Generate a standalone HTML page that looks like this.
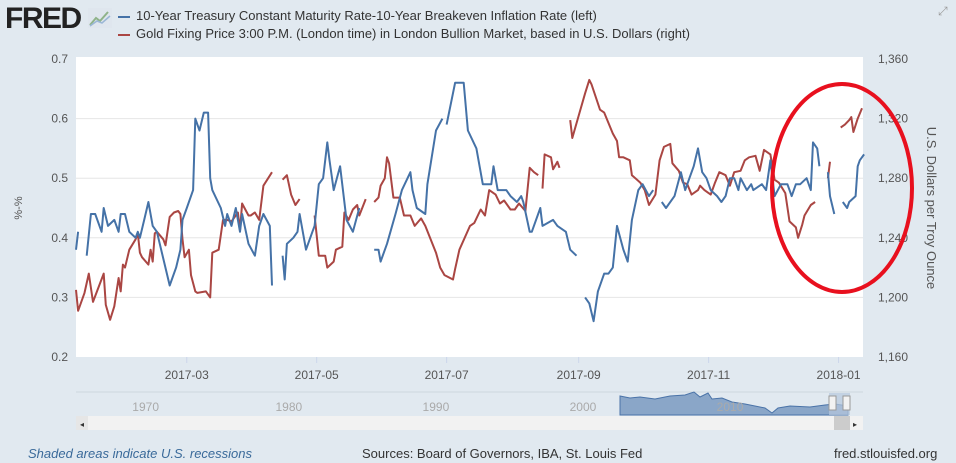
<!DOCTYPE html>
<html><head><meta charset="utf-8"><style>
body{margin:0;width:956px;height:463px;background:#e1e9f0;font-family:"Liberation Sans",sans-serif;overflow:hidden;position:relative}
.t{position:absolute;white-space:nowrap}
</style></head><body>
<div class="t" style="left:5px;top:2px;font-size:30px;font-weight:bold;color:#222;letter-spacing:-1.5px">FRED</div>
<svg style="position:absolute;left:88px;top:8px" width="24" height="20"><rect x="0" y="0" width="24" height="20" fill="#dfe6ee"/><polyline points="2,17 8,10 12,13 20,4" fill="none" stroke="#8fb38a" stroke-width="2"/><polyline points="2,18 9,13 14,15 22,8" fill="none" stroke="#9bb7d6" stroke-width="1.5"/></svg>
<div class="t" style="left:118px;top:8px;font-size:13px;color:#333"><span style="display:inline-block;width:12px;height:2px;background:#4572a7;vertical-align:middle;margin-right:6px"></span>10-Year Treasury Constant Maturity Rate-10-Year Breakeven Inflation Rate (left)</div>
<div class="t" style="left:118px;top:26px;font-size:13px;color:#333"><span style="display:inline-block;width:12px;height:2px;background:#aa4643;vertical-align:middle;margin-right:6px"></span>Gold Fixing Price 3:00 P.M. (London time) in London Bullion Market, based in U.S. Dollars (right)</div>
<div class="t" style="left:938px;top:4px;font-size:12px;color:#999">⤢</div>
<svg id="chart" width="956" height="463" style="position:absolute;left:0;top:0"></svg>
<div class="t" style="left:28px;top:446px;font-size:13px;font-style:italic;color:#3a6a9a">Shaded areas indicate U.S. recessions</div>
<div class="t" style="left:362px;top:446px;font-size:13px;color:#333">Sources: Board of Governors, IBA, St. Louis Fed</div>
<div class="t" style="left:834px;top:446px;font-size:13px;color:#333">fred.stlouisfed.org</div>
<script>
const blueDays=[7,8,9,12,14,16,19,20,22,25,27,28,30,32,35,36,37,39,41,43,45,51,54,56,57,59,62,63,65,67,69,70,71,75,77,78,80,82,84,85,88,91,93,95,98,99,101,104,105,106,109,111,112,115,118,119,121,123,125,126,128,131,134,137,140,143,147,149,150,153,157,160,164,165,167,171,172,176,179,180,181,185,189,191,195,198,202,203,205,209,211,214,216,217,220,221,225,226,231,233,237,239,242,244,246,248,250,252,255,257,259,261,264,266,268,271,273,276,278,280,282,284,288,291,293,295,297,299,301,303,305,308,310,312,314,316,318,319,322,324,325,329,331,333,335,338,341,343,345,347,350,352,353,355,356,358,360,361,363,365,367,369,370,373,374,375,377];
const blueVals=[0.38,0.41,null,0.37,0.44,0.44,0.41,0.45,0.42,0.43,0.41,0.44,0.44,0.41,0.40,0.41,0.40,0.43,0.46,0.42,0.41,0.32,0.35,0.38,0.43,0.45,0.48,0.60,0.58,0.61,0.61,0.50,0.48,0.45,0.42,0.44,0.42,0.45,0.41,0.44,0.39,0.37,0.42,0.44,0.42,0.32,null,0.37,0.33,0.39,0.40,0.41,0.44,0.38,0.41,0.42,0.49,0.50,0.56,0.53,0.48,0.52,0.43,0.41,0.45,null,0.38,0.38,0.36,0.39,0.44,0.48,0.51,0.48,0.45,0.44,0.49,0.58,0.60,null,0.59,0.66,0.66,0.58,0.55,0.49,0.49,0.52,0.48,0.48,0.47,0.46,0.47,0.46,0.41,0.41,0.45,0.42,0.43,0.42,0.41,0.38,0.37,null,0.30,0.29,0.26,0.31,0.34,0.34,0.35,0.42,0.38,0.36,0.43,0.48,0.49,0.47,0.48,null,0.46,0.45,0.47,0.51,0.48,0.50,0.52,0.55,0.51,0.50,0.48,0.47,0.46,0.47,0.50,0.50,0.48,0.50,0.48,0.49,0.48,0.49,0.48,0.53,0.47,0.49,0.49,0.47,0.49,0.49,0.50,0.48,0.56,0.55,0.52,null,0.51,0.47,0.44,null,0.46,0.45,0.46,0.47,0.52,0.53,0.54];
const goldDays=[7,8,11,13,15,20,21,23,25,27,28,29,30,32,35,36,37,38,41,42,43,44,45,48,49,51,53,55,56,57,58,60,61,63,64,68,70,71,74,76,78,80,83,84,85,88,89,91,93,95,99,101,104,106,108,110,112,113,119,121,124,125,128,129,132,133,135,137,139,140,143,144,147,149,150,152,153,154,156,159,161,164,166,169,171,176,178,180,184,185,187,192,194,197,199,201,204,206,208,211,213,215,218,220,222,224,225,226,227,230,231,233,234,237,239,240,243,246,248,249,253,255,259,261,262,264,267,268,272,274,276,279,281,283,286,287,290,292,294,296,299,300,302,305,307,309,312,314,316,319,321,323,326,328,330,333,335,337,340,342,345,346,348,349,352,354,356,360,361,363,366,368,370,371,372,374,376];
const goldVals=[1205,1191,1203,1216,1197,1216,1195,1185,1194,1213,1204,1222,1220,1232,1239,1243,1230,1227,1222,1232,1224,1243,1244,1239,1235,1254,1257,1258,1256,1239,1227,1232,1215,1204,1203,1204,1200,1230,1232,1252,1252,1251,1257,1245,1263,1255,1255,1257,1252,1275,1284,null,1279,1282,1269,1262,1266,null,1255,1228,1228,1220,1224,1232,1234,1257,1252,1259,1262,1255,1266,null,1264,1267,1275,1280,1294,1290,1267,1267,1255,1255,1248,1253,1248,1230,1220,1215,1212,1219,1232,1248,1250,1259,1255,1272,1269,1263,1265,1259,1259,1263,1258,1287,1284,1282,null,1273,1296,1294,1286,1291,1287,null,1319,1307,1322,1337,1346,1343,1326,1324,1310,1305,1294,1294,1292,1282,1277,1272,1262,1269,1292,1301,1303,1290,1285,1277,1276,1269,1272,1275,1272,1269,1277,1284,1282,1275,1284,1285,1292,1294,1295,1285,1299,1296,1279,1277,1270,1251,1247,1240,1249,1255,1262,1264,null,1280,1291,null,1314,1316,1319,1321,1311,1320,1327];
const leftTicks=[0.2,0.3,0.4,0.5,0.6,0.7];
const rightTicks=[1160,1200,1240,1280,1320,1360];
const monthLabels=["2017-03","2017-05","2017-07","2017-09","2017-11","2018-01"];
const monthDays=[59,120,181,243,304,365];
const navYears=["1970","1980","1990","2000","2010"];
const navYearPos=[0.09,0.275,0.465,0.655,0.845];

const svg=document.getElementById('chart');const NS='http://www.w3.org/2000/svg';
const L=76,R=863,T=59,B=357;
const xs=d=>L+(d-7)*2.13;
const yl=v=>B-(v-0.2)/0.5*(B-T);
const yr=v=>B-(v-1160)/200*(B-T);
function mk(tag,at,par){const e=document.createElementNS(NS,tag);for(const k in at)e.setAttribute(k,at[k]);(par||svg).appendChild(e);return e;}
const bg=mk('rect',{x:L,y:T-2,width:R-L,height:B-T+2,fill:'#fff'});


leftTicks.forEach((v,i)=>{
 if(i>0&&i<leftTicks.length-1){const g=mk('line',{x1:L,x2:R,y1:yl(v),y2:yl(v),stroke:'#e6e6e6'});
 
 }
 const t=mk('text',{x:L-8,y:yl(v)+4,'text-anchor':'end','font-size':12,fill:'#555'});t.textContent=v.toFixed(1);
 
 
});
rightTicks.forEach(v=>{const t=mk('text',{x:878,y:yr(v)+4,'font-size':12,fill:'#555'});t.textContent=v.toLocaleString('en-US');
 
 });
monthLabels.forEach((m,i)=>{const x=xs(monthDays[i]);mk('line',{x1:x,x2:x,y1:B,y2:B+6,stroke:'#ccd6eb'});
 const t=mk('text',{x:x,y:B+22,'text-anchor':'middle','font-size':12,fill:'#555'});t.textContent=m;
 
 });
const yt=mk('text',{x:0,y:0,transform:'translate(22,208) rotate(-90)','text-anchor':'middle','font-size':11,fill:'#555'});yt.textContent='%-%';


const yt2=mk('text',{x:0,y:0,transform:'translate(927,208) rotate(90)','text-anchor':'middle','font-size':13,fill:'#555'});yt2.textContent='U.S. Dollars per Troy Ounce';


function path(days,vals,yf,col,name){let d='',pen=false;days.forEach((dd,i)=>{const v=vals[i];if(v===null){pen=false;return;}d+=(pen?'L':'M')+xs(dd).toFixed(1)+','+yf(v).toFixed(1);pen=true;});
 const p=mk('path',{d:d,fill:'none',stroke:col,'stroke-width':2,'stroke-linejoin':'round'});
 
 }
path(goldDays,goldVals,yr,'#aa4643','gold-price-line');
path(blueDays,blueVals,yl,'#4572a7','treasury-spread-line');
const el=mk('ellipse',{cx:842,cy:188,rx:70,ry:104,fill:'none',stroke:'#e8101e','stroke-width':4});


const nav=mk('g',{});


mk('line',{x1:L,x2:R,y1:392,y2:392,stroke:'#cdd6de'},nav);
mk('path',{d:'M620,415 L620,396 L630,398 L640,397 L655,399 L670,396 L685,395 L694,392 L700,397 L708,393 L712,399 L722,398 L732,402 L745,404 L755,406 L765,408 L772,413 L778,408 L790,406 L810,407 L825,405 L835,404 L848,406 L848,415 Z',fill:'#8aa6c8',stroke:'#4a73a8','stroke-width':1},nav);
mk('rect',{x:829,y:393,width:21,height:22,fill:'#b6c8dd',opacity:0.7},nav);
navYears.forEach((yv,i)=>{const t=mk('text',{x:L+navYearPos[i]*(850-L),y:411,'text-anchor':'middle','font-size':12,fill:'#aaa'},nav);t.textContent=yv;});
mk('rect',{x:829,y:396,width:7,height:14,fill:'#f2f2f2',stroke:'#999'},nav);
mk('rect',{x:843,y:396,width:7,height:14,fill:'#f2f2f2',stroke:'#999'},nav);
const sb=mk('rect',{x:L,y:416,width:787,height:14,fill:'#f2f2f2'});


mk('rect',{x:L,y:416,width:12,height:14,fill:'#e6e6e6'});
mk('rect',{x:834,y:416,width:16,height:14,fill:'#ccc'});
const a1=mk('text',{x:80,y:427,'font-size':8,fill:'#333'});a1.textContent='◂';
const a2=mk('text',{x:853,y:427,'font-size':8,fill:'#333'});a2.textContent='▸';
</script>
</body></html>
